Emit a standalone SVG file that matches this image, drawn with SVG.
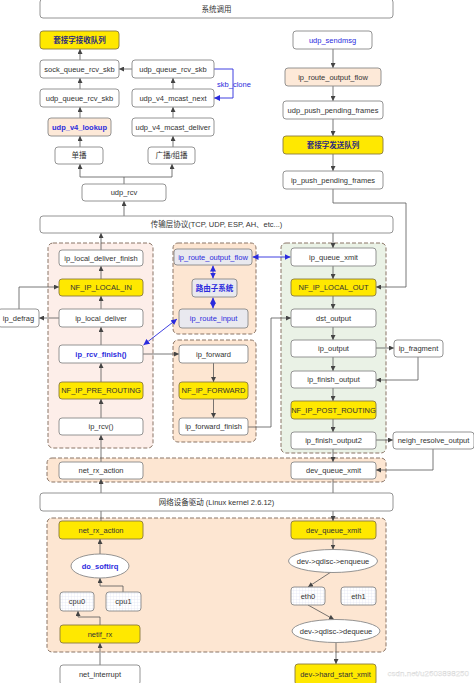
<svg xmlns="http://www.w3.org/2000/svg" width="474" height="683" viewBox="0 0 474 683">
<defs>
<marker id="ah" viewBox="0 0 6 6" refX="6" refY="3" markerWidth="5" markerHeight="5" orient="auto-start-reverse" markerUnits="userSpaceOnUse"><path d="M0,0 L6,3 L0,6 Z" fill="#444"/></marker>
<marker id="bh" viewBox="0 0 6 6" refX="6" refY="3" markerWidth="6" markerHeight="6" orient="auto-start-reverse" markerUnits="userSpaceOnUse"><path d="M0,0 L6,3 L0,6 Z" fill="#2b2bdd"/></marker>
<pattern id="grid" width="3" height="3" patternUnits="userSpaceOnUse"><rect width="3" height="3" fill="#fff"/><path d="M3,0 V3 M0,3 H3" stroke="#d8dcee" stroke-width="0.5" fill="none"/></pattern>
<style>
text{font-family:"Liberation Sans","Noto Sans CJK SC",sans-serif;font-size:7.5px;fill:#333;text-anchor:middle;dominant-baseline:central}
.n{fill:#fff;stroke:#888;stroke-width:0.9}
.y{fill:#ffe800;stroke:#8a7a40;stroke-width:0.9}
.p{fill:#fde9d8;stroke:#888;stroke-width:0.9}
.g{fill:#e9e9ef;stroke:#888;stroke-width:0.9}
.grid{fill:url(#grid);stroke:#888;stroke-width:0.9}
.blue{fill:#2b2bdd}
.bb{fill:#2b2bdd;font-weight:bold}
.dk{fill:#2a2a80;font-weight:bold}
.grp{stroke:#8a7566;stroke-width:1;stroke-dasharray:4 2}
.c{fill:none;stroke:#555;stroke-width:0.8;marker-end:url(#ah)}
.cb{fill:none;stroke:#2b2bdd;stroke-width:0.9;marker-end:url(#bh)}
.cbb{fill:none;stroke:#2b2bdd;stroke-width:0.9;marker-end:url(#bh);marker-start:url(#bh)}
</style>
</defs>
<rect width="474" height="683" fill="#fff"/>

<g id="groups">
<rect id="g-left" class="grp" x="48" y="243" width="105" height="205" rx="5" fill="#fdeee9"/>
<rect id="g-route" class="grp" x="173" y="243" width="83" height="91" rx="5" fill="#fde6d2"/>
<rect id="g-fwd" class="grp" x="173" y="340" width="83" height="102" rx="5" fill="#fde6d2"/>
<rect id="g-out" class="grp" x="281" y="243" width="105" height="210" rx="5" fill="#eaf2e6"/>
<rect id="g-band" class="grp" x="47" y="458" width="339" height="24" rx="5" fill="#fde6d2"/>
<rect id="g-drv" class="grp" x="47" y="518" width="339" height="134" rx="5" fill="#fde6d2"/>
</g>

<g id="connectors">
<path class="c" d="M80,60 V49"/>
<path class="c" d="M80,89 V78"/>
<path class="c" d="M80,118 V107"/>
<path class="c" d="M80,147 V136"/>
<path class="c" d="M124,184 V177 H80 V164"/>
<path class="c" d="M124,177 H172 V164"/>
<path class="c" d="M173,147 V136"/>
<path class="c" d="M173,118 V107"/>
<path class="c" d="M173,89 V78"/>
<path class="c" d="M132,69 H119"/>
<path class="cb" d="M214,69 H233 V98 H214"/>
<path class="c" d="M124,216 V201"/>
<path class="c" d="M101,250 V233"/>
<path class="c" d="M101,279 V266"/>
<path class="c" d="M101,309 V296"/>
<path class="c" d="M101,345 V327"/>
<path class="c" d="M101,382 V363"/>
<path class="c" d="M101,418 V399"/>
<path class="c" d="M101,462 V435"/>
<path class="c" d="M101,521 V479"/>
<path class="c" d="M100,554 V539"/>
<path class="c" d="M123,592 V586 H100 V578"/>
<path class="c" d="M100,625 V617 H78 V611"/>
<path class="c" d="M100,665 V643"/>
<path class="c" d="M59,318 H39"/>
<path class="c" d="M19,309 V287 H59"/>
<path class="c" d="M143,354 H179"/>
<path class="c" d="M213.5,363 V382"/>
<path class="c" d="M213.5,399 V418"/>
<path class="c" d="M248,427 H271 V318 H291"/>
<path class="c" d="M333,49 V68"/>
<path class="c" d="M333,86 V101"/>
<path class="c" d="M333,119 V136"/>
<path class="c" d="M333,154 V171"/>
<path class="c" d="M333,189 V203 H406 V287 H376"/>
<path class="c" d="M333,233 V248"/>
<path class="c" d="M333,266 V279"/>
<path class="c" d="M333,296 V309"/>
<path class="c" d="M333,327 V340"/>
<path class="c" d="M333,357 V371"/>
<path class="c" d="M333,388 V401"/>
<path class="c" d="M333,419 V432"/>
<path class="c" d="M376,348 H394"/>
<path class="c" d="M418,357 V380 H376"/>
<path class="c" d="M376,440 H393"/>
<path class="c" d="M433,449 V470 H376"/>
<path class="c" d="M333,449 V462"/>
<path class="c" d="M333,479 V521"/>
<path class="c" d="M333,539 V549.5"/>
<path class="c" d="M331,572 L308,587"/>
<path class="c" d="M308,605 L334,619.5"/>
<path class="c" d="M336,643 V664"/>
<path class="cbb" d="M213,265.5 V278.5"/>
<path class="cbb" d="M213,297.5 V308.5"/>
<path class="cbb" d="M252.5,257 H290.5"/>
<path class="cbb" d="M143.5,345 L177,319"/>
</g>

<g id="n-syscall"><rect class="n" x="40" y="-1" width="353" height="19" rx="3"/><text x="216.5" y="9">系统调用</text></g>
<g id="n-rcvq"><rect class="y" x="40" y="31" width="79" height="18" rx="3"/><text class="dk" x="79.5" y="40">套接字接收队列</text></g>
<g id="n-sockq"><rect class="n" x="40" y="60" width="79" height="18" rx="3"/><text x="79.5" y="69">sock_queue_rcv_skb</text></g>
<g id="n-udpq1"><rect class="n" x="40" y="89" width="79" height="18" rx="3"/><text x="79.5" y="98">udp_queue_rcv_skb</text></g>
<g id="n-lookup"><rect class="p" x="48" y="118" width="63" height="18" rx="3"/><text class="bb" x="79.5" y="127">udp_v4_lookup</text></g>
<g id="n-uni"><rect class="n" x="55" y="147" width="48" height="17" rx="3"/><text x="79" y="155.5">单播</text></g>
<g id="n-udpq2"><rect class="n" x="132" y="60" width="82" height="18" rx="3"/><text x="173" y="69">udp_queue_rcv_skb</text></g>
<g id="n-mnext"><rect class="n" x="132" y="89" width="82" height="18" rx="3"/><text x="173" y="98">udp_v4_mcast_next</text></g>
<g id="n-mdeliver"><rect class="n" x="132" y="118" width="82" height="18" rx="3"/><text x="173" y="127">udp_v4_mcast_deliver</text></g>
<g id="n-multi"><rect class="n" x="148" y="147" width="47" height="17" rx="3"/><text x="171.5" y="155.5">广播/组播</text></g>
<g id="n-skbclone"><text class="blue" x="234" y="84">skb_clone</text></g>
<g id="n-udprcv"><rect class="n" x="82" y="184" width="84" height="17" rx="3"/><text x="124" y="192.5">udp_rcv</text></g>
<g id="n-transport"><rect class="n" x="40" y="216" width="353" height="17" rx="3"/><text x="216.5" y="224.5">传输层协议(TCP, UDP, ESP, AH、etc...)</text></g>

<g id="n-sendmsg"><rect class="n" x="293" y="31" width="79" height="18" rx="3"/><text class="blue" x="332.5" y="40">udp_sendmsg</text></g>
<g id="n-rof1"><rect class="p" x="285" y="68" width="96" height="18" rx="3"/><text x="333" y="77">ip_route_output_flow</text></g>
<g id="n-udppush"><rect class="n" x="283" y="101" width="100" height="18" rx="3"/><text x="333" y="110">udp_push_pending_frames</text></g>
<g id="n-sendq"><rect class="y" x="283" y="136" width="100" height="18" rx="3"/><text class="dk" x="333" y="145">套接字发送队列</text></g>
<g id="n-ippush"><rect class="n" x="283" y="171" width="100" height="18" rx="3"/><text x="333" y="180">ip_push_pending_frames</text></g>

<g id="n-ldf"><rect class="n" x="59" y="250" width="84" height="16" rx="3"/><text x="101" y="258">ip_local_deliver_finish</text></g>
<g id="n-localin"><rect class="y" x="59" y="279" width="84" height="17" rx="3"/><text x="101" y="287.5">NF_IP_LOCAL_IN</text></g>
<g id="n-ld"><rect class="n" x="59" y="309" width="84" height="18" rx="3"/><text x="101" y="318">ip_local_deliver</text></g>
<g id="n-rcvfin"><rect class="n" x="59" y="345" width="84" height="18" rx="3"/><text class="bb" x="101" y="354">ip_rcv_finish()</text></g>
<g id="n-prerouting"><rect class="y" x="59" y="382" width="84" height="17" rx="3"/><text x="101" y="390.5">NF_IP_PRE_ROUTING</text></g>
<g id="n-iprcv"><rect class="n" x="59" y="418" width="84" height="17" rx="3"/><text x="101" y="426.5">ip_rcv()</text></g>
<g id="n-defrag"><rect class="n" x="-2" y="309" width="41" height="18" rx="3"/><text x="18.5" y="318">ip_defrag</text></g>

<g id="n-rof2"><rect class="g" x="174" y="249" width="78" height="16" rx="3"/><text class="blue" x="213" y="257">ip_route_output_flow</text></g>
<g id="n-routesys"><rect class="g" x="192" y="279" width="45" height="18" rx="3"/><text class="bb" x="214.5" y="288">路由子系统</text></g>
<g id="n-routein"><rect class="g" x="179" y="309" width="69" height="19" rx="3"/><text class="blue" x="213.5" y="318.5">ip_route_input</text></g>
<g id="n-fwd"><rect class="n" x="179" y="345" width="69" height="18" rx="3"/><text x="213.5" y="354">ip_forward</text></g>
<g id="n-nffwd"><rect class="y" x="179" y="382" width="69" height="17" rx="3"/><text x="213.5" y="390.5">NF_IP_FORWARD</text></g>
<g id="n-fwdfin"><rect class="n" x="179" y="418" width="69" height="17" rx="3"/><text x="213.5" y="426.5">ip_forward_finish</text></g>

<g id="n-qxmit"><rect class="n" x="291" y="248" width="85" height="18" rx="3"/><text x="333.5" y="257">ip_queue_xmit</text></g>
<g id="n-localout"><rect class="y" x="291" y="279" width="85" height="17" rx="3"/><text x="333.5" y="287.5">NF_IP_LOCAL_OUT</text></g>
<g id="n-dst"><rect class="n" x="291" y="309" width="85" height="18" rx="3"/><text x="333.5" y="318">dst_output</text></g>
<g id="n-ipout"><rect class="n" x="291" y="340" width="85" height="17" rx="3"/><text x="333.5" y="348.5">ip_output</text></g>
<g id="n-fo"><rect class="n" x="291" y="371" width="85" height="17" rx="3"/><text x="333.5" y="379.5">ip_finish_output</text></g>
<g id="n-postrouting"><rect class="y" x="291" y="401" width="85" height="18" rx="3"/><text x="333.5" y="410">NF_IP_POST_ROUTING</text></g>
<g id="n-fo2"><rect class="n" x="291" y="432" width="85" height="17" rx="3"/><text x="333.5" y="440.5">ip_finish_output2</text></g>
<g id="n-frag"><rect class="n" x="394" y="340" width="49" height="17" rx="3"/><text x="418.5" y="348.5">ip_fragment</text></g>
<g id="n-neigh"><rect class="n" x="393" y="432" width="81" height="17" rx="3"/><text x="433.5" y="440.5">neigh_resolve_output</text></g>

<g id="n-rxa1"><rect class="n" x="59" y="462" width="84" height="17" rx="3"/><text x="101" y="470.5">net_rx_action</text></g>
<g id="n-dqx1"><rect class="n" x="291" y="462" width="85" height="17" rx="3"/><text x="333.5" y="470.5">dev_queue_xmit</text></g>
<g id="n-driver"><rect class="n" x="40" y="493" width="353" height="18" rx="3"/><text x="216.5" y="502">网络设备驱动 (Linux kernel 2.6.12)</text></g>

<g id="n-rxa2"><rect class="y" x="59" y="521" width="84" height="18" rx="3"/><text x="101" y="530">net_rx_action</text></g>
<g id="n-softirq"><ellipse class="n" cx="100" cy="566" rx="29" ry="12"/><text class="bb" x="100" y="566">do_softirq</text></g>
<g id="n-cpu0"><rect class="grid" x="60" y="592" width="34" height="19" rx="3"/><text x="77" y="601.5">cpu0</text></g>
<g id="n-cpu1"><rect class="grid" x="106" y="592" width="35" height="19" rx="3"/><text x="123.5" y="601.5">cpu1</text></g>
<g id="n-netifrx"><rect class="y" x="60" y="625" width="80" height="18" rx="3"/><text x="100" y="634">netif_rx</text></g>
<g id="n-netint"><rect class="n" x="60" y="665" width="80" height="20" rx="3"/><text x="100" y="674.5">net_interrupt</text></g>

<g id="n-dqx2"><rect class="y" x="291" y="521" width="85" height="18" rx="3"/><text x="333.5" y="530">dev_queue_xmit</text></g>
<g id="n-enq"><ellipse class="n" cx="333" cy="561" rx="44.5" ry="11.5"/><text x="333" y="561">dev-&gt;qdisc-&gt;enqueue</text></g>
<g id="n-eth0"><rect class="grid" x="291" y="587" width="34" height="18" rx="3"/><text x="308" y="596">eth0</text></g>
<g id="n-eth1"><rect class="grid" x="341" y="587" width="35" height="18" rx="3"/><text x="358.5" y="596">eth1</text></g>
<g id="n-deq"><ellipse class="n" cx="336" cy="631" rx="44" ry="11.5"/><text x="336" y="631">dev-&gt;qdisc-&gt;dequeue</text></g>
<g id="n-hsx"><rect class="y" x="295" y="664" width="81" height="21" rx="3"/><text x="335.5" y="674">dev-&gt;hard_start_xmit</text></g>

<text x="469" y="673" style="text-anchor:end;font-size:8px;fill:#ffffff;fill-opacity:0.75;stroke:#c8c8c8;stroke-width:0.25">csdn.net/u2603898250</text>
</svg>
